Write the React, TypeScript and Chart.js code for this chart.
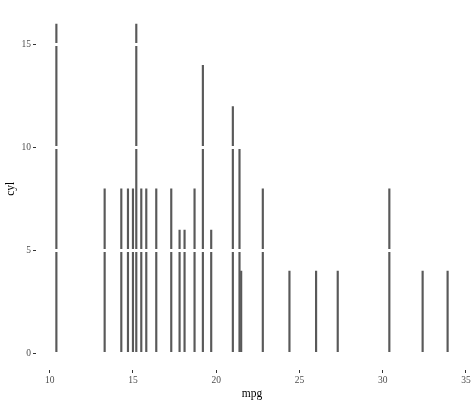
import { useEffect, useRef } from "react";
import { Chart, registerables } from "chart.js";

Chart.register(...registerables);

// mtcars: unique mpg values and the stacked cyl total for each
const mpgValues = [
  10.4, 13.3, 14.3, 14.7, 15.0, 15.2, 15.5, 15.8, 16.4, 17.3, 17.8, 18.1, 18.7,
  19.2, 19.7, 21.0, 21.4, 21.5, 22.8, 24.4, 26.0, 27.3, 30.4, 32.4, 33.9,
];
const cylTotals = [
  16, 8, 8, 8, 8, 16, 8, 8, 8, 8, 6, 6, 8, 14, 6, 12, 10, 4, 8, 4, 4, 4, 8, 4, 4,
];
const xTicks = [10, 15, 20, 25, 30, 35];
const yTicks = [0, 5, 10, 15];

const serif = "'Liberation Serif', 'Times New Roman', serif";

export default function App() {
  const canvasRef = useRef<HTMLCanvasElement | null>(null);

  useEffect(() => {
    document.body.style.margin = "0";
    const canvas = canvasRef.current;
    if (!canvas) return;

    const chart = new Chart(canvas, {
      type: "bar",
      data: {
        datasets: [
          {
            label: "cyl",
            data: mpgValues.map((m, i) => ({ x: m, y: cylTotals[i] })),
            backgroundColor: "#595959",
            borderWidth: 0,
            barThickness: 1.5,
          },
        ],
      },
      options: {
        animation: false,
        responsive: true,
        maintainAspectRatio: false,
        layout: { padding: { top: 5, right: 6, left: 0, bottom: 0 } },
        plugins: { legend: { display: false }, tooltip: { enabled: false } },
        scales: {
          x: {
            type: "linear",
            offset: false,
            min: 9.176,
            max: 35.125,
            afterBuildTicks: (scale) => {
              scale.ticks = xTicks.map((v) => ({ value: v }));
            },
            afterFit: (scale) => {
              scale.height = 34;
            },
            grid: {
              offset: false,
              drawOnChartArea: false,
              drawTicks: true,
              tickLength: 3,
              tickColor: "#333333",
              tickWidth: 1,
            },
            border: { display: false },
            ticks: {
              color: "#4d4d4d",
              padding: 2,
              maxRotation: 0,
              font: { family: serif, size: 9.5 },
            },
            title: {
              display: true,
              text: "mpg",
              color: "#000000",
              font: { family: serif, size: 11.5 },
              padding: { top: 0, bottom: 3.5 },
            },
          },
          y: {
            type: "linear",
            min: -0.8,
            max: 16.8,
            afterBuildTicks: (scale) => {
              scale.ticks = yTicks.map((v) => ({ value: v }));
            },
            afterFit: (scale) => {
              scale.width = 36;
            },
            // white major grid lines drawn over the bars
            grid: {
              z: 1,
              color: "#ffffff",
              lineWidth: 3,
              drawTicks: true,
              tickLength: 3,
              tickColor: "#333333",
              tickWidth: 1,
            },
            border: { display: false },
            ticks: {
              color: "#4d4d4d",
              padding: 2,
              font: { family: serif, size: 9.5 },
            },
            title: {
              display: true,
              text: "cyl",
              color: "#000000",
              font: { family: serif, size: 11.5 },
              padding: { top: 4, bottom: 0 },
            },
          },
        },
      },
    });

    return () => {
      chart.destroy();
    };
  }, []);

  return (
    <div style={{ position: "relative", width: 474, height: 404, background: "#ffffff" }}>
      <canvas ref={canvasRef} />
    </div>
  );
}
